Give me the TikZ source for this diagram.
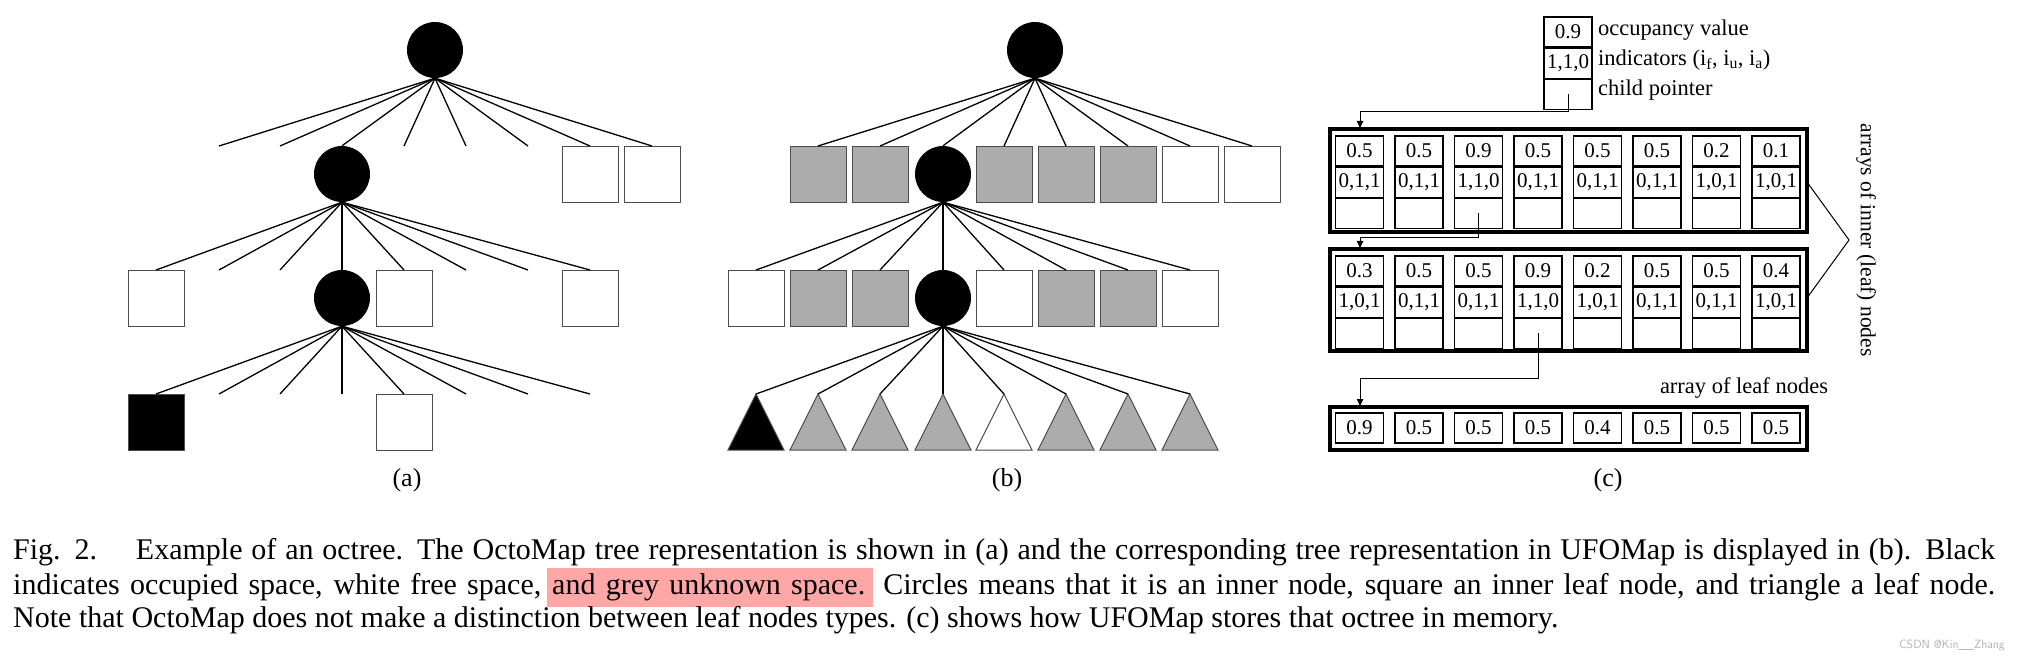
\documentclass[tikz,border=0pt]{standalone}
\usepackage{fontspec}
\setmainfont{Liberation Serif}
\usetikzlibrary{arrows.meta}
\begin{document}
\begin{tikzpicture}[x=1pt,y=-1pt,
  ln/.style={line width=1.3pt},
  inn/.style={circle,fill=black,minimum size=56pt,inner sep=0pt},
  sq/.style={draw=black!70,line width=1pt,minimum width=56pt,minimum height=56pt,inner sep=0pt},
  gsq/.style={sq,fill=gray!65},
  bsq/.style={sq,fill=black},
  tri/.style={draw=black!70,line width=1pt},
  cell/.style={draw,line width=1.1pt,minimum width=48pt,minimum height=30pt,inner sep=0pt,font=\fontsize{21}{22}\selectfont},
  arr/.style={draw,line width=3.2pt},
  ptr/.style={line width=1pt,-{Latex[length=8pt,width=7pt]}},
  lbl/.style={font=\fontsize{26}{28}\selectfont},
  txt/.style={font=\fontsize{22.5}{24}\selectfont,anchor=west,inner sep=0pt}]
\useasboundingbox (0,0) rectangle (2018,660);
% ---------- (a) ----------
\node[inn] (aR) at (435,50) {};
\node[inn] (aI1) at (342,174) {};
\node[inn] (aI2) at (342,298) {};
\foreach \i/\x in {1/219,2/280,4/404,5/466,6/528}{\coordinate (aL1\i) at (\x,146); \draw[ln] (aR.south) -- (aL1\i);}
\node[sq,anchor=north] (aL17) at (590,146) {};
\node[sq,anchor=north] (aL18) at (652,146) {};
\foreach \i in {7,8}{\draw[ln] (aR.south) -- (aL1\i.north);}
\draw[ln] (aR.south) -- (aI1.north);
\node[sq,anchor=north] (aL21) at (156,270) {};
\node[sq,anchor=north] (aL25) at (404,270) {};
\node[sq,anchor=north] (aL28) at (590,270) {};
\foreach \i in {1,5,8}{\draw[ln] (aI1.south) -- (aL2\i.north);}
\foreach \i/\x in {2/219,3/280,6/466,7/528}{\coordinate (aL2\i) at (\x,270); \draw[ln] (aI1.south) -- (aL2\i);}
\draw[ln] (aI1.south) -- (aI2.north);
\node[bsq,anchor=north] (aL31) at (156,394) {};
\node[sq,anchor=north] (aL35) at (404,394) {};
\foreach \i in {1,5}{\draw[ln] (aI2.south) -- (aL3\i.north);}
\foreach \i/\x in {2/219,3/280,4/342,6/466,7/528,8/590}{\coordinate (aL3\i) at (\x,394); \draw[ln] (aI2.south) -- (aL3\i);}
\node[lbl] (la) at (407,480) {(a)};
% ---------- (b) ----------
\node[inn] (bR) at (1035,50) {};
\node[inn] (bI1) at (943,174) {};
\node[inn] (bI2) at (943,298) {};
\foreach \i/\x/\s in {1/818/gsq,2/880/gsq,4/1004/gsq,5/1066/gsq,6/1128/gsq,7/1190/sq,8/1252/sq}{
  \node[\s,anchor=north] (bL1\i) at (\x,146) {}; \draw[ln] (bR.south) -- (bL1\i.north);}
\draw[ln] (bR.south) -- (bI1.north);
\foreach \i/\x/\s in {1/756/sq,2/818/gsq,3/880/gsq,5/1004/sq,6/1066/gsq,7/1128/gsq,8/1190/sq}{
  \node[\s,anchor=north] (bL2\i) at (\x,270) {}; \draw[ln] (bI1.south) -- (bL2\i.north);}
\draw[ln] (bI1.south) -- (bI2.north);
\foreach \i/\x/\c in {1/756/black,2/818/gray!65,3/880/gray!65,4/943/gray!65,5/1004/white,6/1066/gray!65,7/1128/gray!65,8/1190/gray!65}{
  \coordinate (bT\i) at (\x,394);
  \draw[tri,fill=\c] (\x-28,450) -- (bT\i) -- (\x+28,450) -- cycle;
  \draw[ln] (bI2.south) -- (bT\i);}
\node[lbl] (lb) at (1007,480) {(b)};
% ---------- (c) ----------
\node[cell] (k1) at (1568,32) {0.9};
\node[cell,anchor=north] (k2) at (k1.south) {1,1,0};
\node[cell,anchor=north] (k3) at (k2.south) {};
\node[txt] (t1) at (1598,30) {occupancy value};
\node[txt] (t2) at (1598,60) {indicators (i\textsubscript{f}, i\textsubscript{u}, i\textsubscript{a})};
\node[txt] (t3) at (1598,90) {child pointer};
% array 1
\node[arr,minimum width=477pt,minimum height=103pt,inner sep=0pt] (A1) at (1568.5,180.5) {};
\foreach \v/\ind [count=\i] in {0.5/{0,1,1},0.5/{0,1,1},0.9/{1,1,0},0.5/{0,1,1},0.5/{0,1,1},0.5/{0,1,1},0.2/{1,0,1},0.1/{1,0,1}}{
  \node[cell] (p\i a) at ({1359.5+59.5*(\i-1)},151) {\v};
  \node[cell,anchor=north] (p\i b) at (p\i a.south) {\ind};
  \node[cell,anchor=north] (p\i c) at (p\i b.south) {};}
% array 2
\node[arr,minimum width=477pt,minimum height=102pt,inner sep=0pt] (A2) at (1568.5,300) {};
\foreach \v/\ind [count=\i] in {0.3/{1,0,1},0.5/{0,1,1},0.5/{0,1,1},0.9/{1,1,0},0.2/{1,0,1},0.5/{0,1,1},0.5/{0,1,1},0.4/{1,0,1}}{
  \node[cell] (q\i a) at ({1359.5+59.5*(\i-1)},271) {\v};
  \node[cell,anchor=north] (q\i b) at (q\i a.south) {\ind};
  \node[cell,anchor=north] (q\i c) at (q\i b.south) {};}
% leaf array
\node[arr,minimum width=477pt,minimum height=43pt,inner sep=0pt] (A3) at (1568.5,428.5) {};
\foreach \v [count=\i] in {0.9,0.5,0.5,0.5,0.4,0.5,0.5,0.5}{
  \node[cell] (r\i) at ({1359.5+59.5*(\i-1)},428) {\v};}
\node[font=\fontsize{22.5}{24}\selectfont] (tl) at (1744,388) {array of leaf nodes};
% pointers
\coordinate (e1) at (1360,129);
\coordinate (e2) at (1360,249);
\coordinate (e3) at (1360,407);
\draw[ptr] (k3.center) |- (1360,112) -- (e1);
\draw[ptr] (p3c.center) |- (1360,238) -- (e2);
\draw[ptr] (q4c.center) |- (1360,378) -- (e3);
% brace
\coordinate (bm) at (1849,240);
\draw[line width=1pt] (1807,182) -- (bm) -- (1807,298);
\node[font=\fontsize{21.5}{23}\selectfont,rotate=-90] (tb) at (1866,240) {arrays of inner (leaf) nodes};
\node[lbl] (lc) at (1608,480) {(c)};
% ---------- caption ----------
\fill[red!35] (547,568) rectangle (873,607);
\begin{scope}[every node/.style={anchor=west,inner sep=0pt,font=\fontsize{30}{32}\selectfont}]
\node (c1) at (13,552) {\makebox[1982pt][s]{Fig. 2.\quad\ Example of an octree. The OctoMap tree representation is shown in (a) and the corresponding tree representation in UFOMap is displayed in (b). Black}};
\node (c2) at (13,587) {\makebox[1982pt][s]{indicates occupied space, white free space, and grey unknown space. Circles means that it is an inner node, square an inner leaf node, and triangle a leaf node.}};
\node (c3) at (13,620) {Note that OctoMap does not make a distinction between leaf nodes types. (c) shows how UFOMap stores that octree in memory.};
\end{scope}
\node[anchor=east,inner sep=0pt,text=black!30,font=\fontsize{12}{14}\selectfont\sffamily] (wm) at (2005,645) {CSDN @Kin\_\_Zhang};
\end{tikzpicture}
\end{document}
